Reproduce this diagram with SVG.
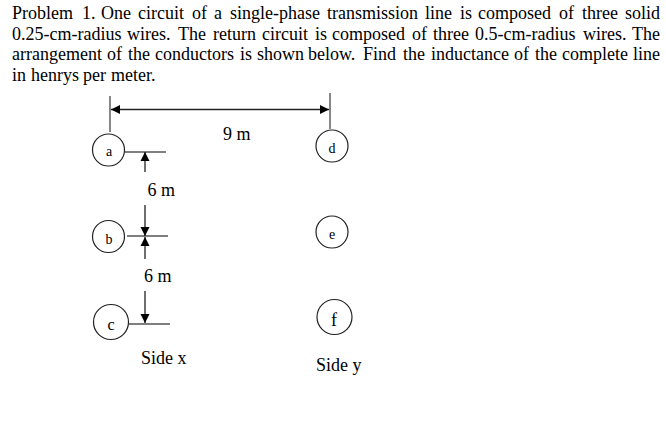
<svg xmlns="http://www.w3.org/2000/svg" width="666" height="432" viewBox="0 0 666 432">
<style>
text{font-family:"Liberation Serif","Times New Roman",serif;fill:#000}
.p,.m{font-size:18px}
.s{font-size:14px;text-anchor:middle}
.w{fill:#fff;stroke:#222;stroke-width:1.2}
.l{stroke:#555;stroke-width:1.4;fill:none}
.a{stroke:#222;stroke-width:1.3;fill:none}
</style>
<defs><marker id="h" markerUnits="userSpaceOnUse" markerWidth="11" markerHeight="11" refX="9" refY="5.500" orient="auto-start-reverse"><path d="M0 1L9 5.500L0 10Z" fill="#000"/></marker></defs>
<rect width="666" height="432" fill="#fff"/>
<g id="problem" class="p">
<text y="18.700"><tspan x="12">Problem</tspan> <tspan x="82">1.</tspan> <tspan x="101">One</tspan> <tspan x="138">circuit</tspan> <tspan x="192">of</tspan> <tspan x="214">a</tspan> <tspan x="230">single-phase</tspan> <tspan x="327">transmission</tspan> <tspan x="425">line</tspan> <tspan x="460">is</tspan> <tspan x="478">composed</tspan> <tspan x="559">of</tspan> <tspan x="582">three</tspan> <tspan x="625">solid</tspan></text>
<text y="40"><tspan x="12">0.25-cm-radius</tspan> <tspan x="127">wires.</tspan> <tspan x="178">The</tspan> <tspan x="213">return</tspan> <tspan x="262">circuit</tspan> <tspan x="315">is</tspan> <tspan x="332">composed</tspan> <tspan x="412">of</tspan> <tspan x="433">three</tspan> <tspan x="475">0.5-cm-radius</tspan> <tspan x="583">wires.</tspan> <tspan x="632">The</tspan></text>
<text y="60.300"><tspan x="12">arrangement</tspan> <tspan x="107">of</tspan> <tspan x="128">the</tspan> <tspan x="155">conductors</tspan> <tspan x="240">is</tspan> <tspan x="257">shown</tspan> <tspan x="308">below.</tspan> <tspan x="363">Find</tspan> <tspan x="403">the</tspan> <tspan x="431">inductance</tspan> <tspan x="514">of</tspan> <tspan x="535">the</tspan> <tspan x="562">complete</tspan> <tspan x="633">line</tspan></text>
<text y="81"><tspan x="12">in</tspan> <tspan x="31">henrys</tspan> <tspan x="83">per</tspan> <tspan x="111">meter.</tspan></text>
</g>
<g id="connectors">
<path class="l" d="M110 96V132M330 93V129M125 152H166M127 236H168M129 324H170"/>
<path class="a" d="M111 109.500H329" marker-start="url(#h)" marker-end="url(#h)"/>
<path class="a" d="M145 172V152" marker-end="url(#h)"/>
<path class="a" d="M145 205V236" marker-end="url(#h)"/>
<path class="a" d="M145 259V237" marker-end="url(#h)"/>
<path class="a" d="M145 291V323" marker-end="url(#h)"/>
</g>
<g id="a"><circle class="w" cx="108.500" cy="150" r="16"/><text class="s" x="109" y="156">a</text></g>
<g id="b"><circle class="w" cx="108.500" cy="236.500" r="16"/><text class="s" x="109" y="243.500">b</text></g>
<g id="c"><circle class="w" cx="111" cy="322" r="17.500"/><text x="111" y="330" style="font-size:16px;text-anchor:middle">c</text></g>
<g id="d"><circle class="w" cx="332" cy="146" r="16"/><text class="s" x="332" y="153">d</text></g>
<g id="e"><circle class="w" cx="332" cy="232" r="16"/><text class="s" x="332" y="239">e</text></g>
<g id="f"><circle class="w" cx="334.500" cy="317" r="17.500"/><text x="334" y="326" style="font-size:18px;text-anchor:middle">f</text></g>
<g id="labels" class="m">
<text x="223" y="140">9 m</text>
<text x="147.500" y="196">6 m</text>
<text x="144" y="282">6 m</text>
<text x="141" y="364">Side x</text>
<text x="316" y="371">Side y</text>
</g>
</svg>
